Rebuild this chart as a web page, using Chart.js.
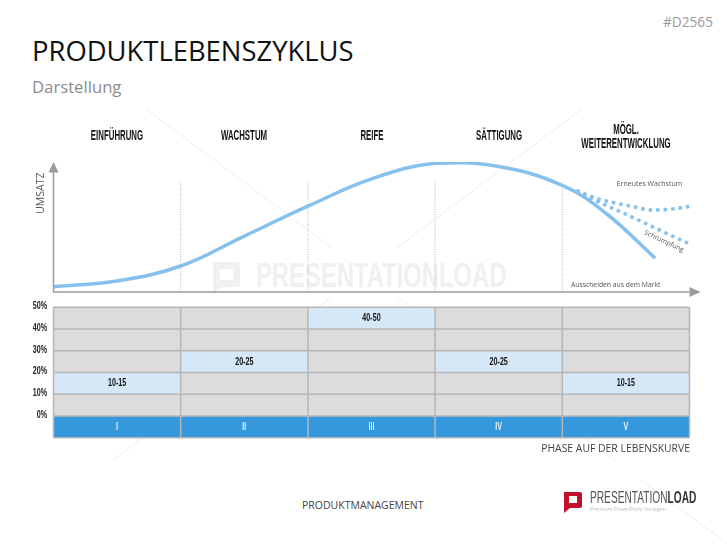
<!DOCTYPE html>
<html lang="de">
<head>
<meta charset="utf-8">
<title>Produktlebenszyklus</title>
<script src="https://cdn.jsdelivr.net/npm/chart.js@4/dist/chart.umd.min.js"></script>
<style>
html, body { margin: 0; padding: 0; background: #fff; }
#page { position: relative; width: 727px; height: 545px; overflow: hidden; font-family: "Open Sans", sans-serif; }
#page > * { position: absolute; }
canvas { position: absolute; }
.t { white-space: nowrap; }
.squeeze { transform-origin: left center; font-family: "Liberation Sans", sans-serif; }
.head { font-family: "Liberation Sans", sans-serif; font-weight: bold; font-size: 14px; line-height: 14px; color: #111; transform: translateX(-50%) scaleX(0.56); text-align: center; }
</style>
</head>
<body>
<div id="page">
  <svg id="bg" width="727" height="545" style="left:0;top:0">
    <g stroke="#eeeeee" stroke-width="1">
      <line x1="147" y1="110" x2="332" y2="248"/>
      <line x1="581" y1="110" x2="397" y2="248"/>
      <line x1="332" y1="297" x2="113" y2="460"/>
      <line x1="397" y1="297" x2="614" y2="460"/>
      <line x1="641" y1="480" x2="727" y2="543"/>
    </g>
    <path d="M213 262h24a3 3 0 0 1 3 3v19a3 3 0 0 1-3 3h-15l-9 8z M220 269v11h13v-11z" fill="#f1f1f1" fill-rule="evenodd"/>
    <path d="M564 492h16a2 2 0 0 1 2 2v12a2 2 0 0 1-2 2h-10l-6 5z M569 496v7h8v-7z" fill="#c3102b" fill-rule="evenodd"/>
  </svg>
  <div class="t squeeze" style="left:256px;top:256px;font-weight:bold;font-size:35px;line-height:38px;color:#f0f0f0;transform:scaleX(0.68)">PRESENTATIONLOAD</div>
  <div class="t" style="right:14px;top:12px;font-size:13.7px;color:#9a9a9a">#D2565</div>
  <div class="t" style="left:32px;top:33px;font-size:27.4px;line-height:36px;color:#111">PRODUKTLEBENSZYKLUS</div>
  <div class="t" style="left:32px;top:75px;font-size:16.7px;line-height:24px;color:#8c8c8c">Darstellung</div>
  <canvas id="lifeChart" width="727" height="200" style="left:0;top:100px"></canvas>
  <canvas id="shareChart" width="727" height="150" style="left:0;top:295px"></canvas>
  <div class="t" style="right:37px;top:440px;font-size:10.4px;line-height:16px;color:#444">PHASE AUF DER LEBENSKURVE</div>
  <div class="t" style="left:302px;top:497px;font-size:10.5px;line-height:16px;color:#444">PRODUKTMANAGEMENT</div>
  <div class="t squeeze" style="left:590px;top:489px;font-size:16px;line-height:18px;color:#555;transform:scaleX(0.635)">PRESENTATION<b style="color:#333">LOAD</b></div>
  <div class="t" style="left:590px;top:504px;font-size:5.3px;line-height:10px;color:#bbb">Premium PowerPoint Vorlagen</div>
</div>
<script>
// Phase names above the curve
const phaseNames = ['EINFÜHRUNG', 'WACHSTUM', 'REIFE', 'SÄTTIGUNG', ['MÖGL.', 'WEITERENTWICKLUNG']];
const phaseNumbers = ['I', 'II', 'III', 'IV', 'V'];

// Life cycle curve, x in phases, y in percent of the axis height
const curveX = [0, 0.5, 1, 1.5, 2, 2.5, 3, 3.5, 4, 4.35, 4.73];
const curveY = [4, 8.5, 20, 43, 66, 87, 99, 96.5, 82, 60, 26];
const growthX = [4.11, 4.27, 4.54, 4.72, 4.88, 5.01];
const growthY = [78, 72, 66, 63, 64, 66];
const shrinkX = [4.11, 4.27, 4.54, 4.8, 5];
const shrinkY = [78, 70, 58, 46, 37];

// Share of revenue table
const shareTicks = [50, 40, 30, 20, 10, 0];
const shareLow = [10, 20, 40, 20, 10];
const shareHigh = [20, 30, 50, 30, 20];
const shareLabels = ['10-15', '20-25', '40-50', '20-25', '10-15'];

const lineBlue = '#85c1ec';
const axisGrey = '#9b9b9b';

const toPoints = (xs, ys) => xs.map((x, i) => ({ x: x, y: ys[i] }));

// No condensed font is installed, so squeeze the text horizontally
function narrowText(ctx, text, px, py) {
    ctx.save();
    ctx.translate(px, py);
    ctx.scale(0.68, 1);
    ctx.fillText(text, 0, 0);
    ctx.restore();
}

// Head labels sit above each phase, placed from the chart's x scale
function addPhaseHeads(chart) {
    const x = chart.scales.x;
    phaseNames.forEach((name, i) => {
        const div = document.createElement('div');
        div.className = 'head t';
        div.style.left = x.getPixelForValue(i + 0.5) + 'px';
        const two = Array.isArray(name);
        div.style.top = (two ? 122 : 128) + 'px';
        div.innerHTML = two ? name.join('<br>') : name;
        document.getElementById('page').appendChild(div);
    });
}

// Axes with arrow heads, dotted phase lines and curve notes
const lifeDecor = {
    id: 'lifeDecor',
    beforeDatasetsDraw(chart) {
        const { ctx, scales: { x, y } } = chart;
        const x0 = x.getPixelForValue(0);
        const y0 = y.getPixelForValue(0);
        ctx.save();
        ctx.strokeStyle = '#b4b4b4';
        ctx.lineWidth = 1;
        ctx.setLineDash([1, 1.5]);
        for (let i = 1; i < 5; i++) {
            const px = x.getPixelForValue(i);
            ctx.beginPath();
            ctx.moveTo(px, y.getPixelForValue(85));
            ctx.lineTo(px, y0);
            ctx.stroke();
        }
        ctx.setLineDash([]);
        ctx.strokeStyle = axisGrey;
        ctx.lineWidth = 1.5;
        ctx.beginPath();
        ctx.moveTo(x0, y.getPixelForValue(96));
        ctx.lineTo(x0, y0);
        ctx.lineTo(x.getPixelForValue(5), y0);
        ctx.stroke();
        ctx.fillStyle = axisGrey;
        ctx.beginPath();
        ctx.moveTo(x0, y.getPixelForValue(100));
        ctx.lineTo(x0 - 5, y.getPixelForValue(92));
        ctx.lineTo(x0 + 5, y.getPixelForValue(92));
        ctx.fill();
        const xEnd = x.getPixelForValue(5);
        ctx.beginPath();
        ctx.moveTo(xEnd + 11, y0);
        ctx.lineTo(xEnd, y0 - 5);
        ctx.lineTo(xEnd, y0 + 5);
        ctx.fill();

        ctx.fillStyle = '#555';
        ctx.textBaseline = 'middle';
        ctx.textAlign = 'center';
        ctx.font = '10.500px "Open Sans", sans-serif';
        ctx.save();
        ctx.translate(41, y.getPixelForValue(76));
        ctx.rotate(-Math.PI / 2);
        ctx.fillText('UMSATZ', 0, 0);
        ctx.restore();
        ctx.font = '7px "Open Sans", sans-serif';
        ctx.fillText('Erneutes Wachstum', x.getPixelForValue(4.685), y.getPixelForValue(83));
        ctx.font = '6.800px "Open Sans", sans-serif';
        ctx.fillText('Ausscheiden aus dem Markt', x.getPixelForValue(4.42), y.getPixelForValue(5));
        ctx.save();
        ctx.translate(x.getPixelForValue(4.8), y.getPixelForValue(39));
        ctx.rotate(0.44);
        ctx.fillText('Schrumpfung', 0, 0);
        ctx.restore();
        ctx.restore();
    }
};

// Table grid drawn over the bars, labels drawn over the grid
const shareDecor = {
    id: 'shareDecor',
    afterDatasetsDraw(chart) {
        const { ctx, scales: { x, y } } = chart;
        const left = x.left, right = x.right;
        ctx.save();
        ctx.strokeStyle = '#b6b6b6';
        ctx.lineWidth = 1.5;
        shareTicks.concat(-10).forEach(v => {
            const py = y.getPixelForValue(v);
            ctx.beginPath();
            ctx.moveTo(left, py);
            ctx.lineTo(right, py);
            ctx.stroke();
        });
        for (let i = 0; i <= 5; i++) {
            const px = left + (right - left) * i / 5;
            ctx.beginPath();
            ctx.moveTo(px, y.getPixelForValue(50));
            ctx.lineTo(px, y.getPixelForValue(-10));
            ctx.stroke();
        }
        ctx.textBaseline = 'middle';
        ctx.font = 'bold 10.500px "Liberation Sans", sans-serif';
        ctx.textAlign = 'right';
        ctx.fillStyle = '#222';
        shareTicks.forEach(v => narrowText(ctx, v + '%', 47, y.getPixelForValue(v) - 1));
        ctx.textAlign = 'center';
        phaseNumbers.forEach((name, i) => {
            const px = x.getPixelForValue(i);
            ctx.fillStyle = '#111';
            narrowText(ctx, shareLabels[i], px, y.getPixelForValue((shareLow[i] + shareHigh[i]) / 2));
            ctx.fillStyle = '#e8f3fb';
            narrowText(ctx, name, px, y.getPixelForValue(-5));
        });
        ctx.restore();
    }
};

const lifeChart = new Chart(document.getElementById('lifeChart'), {
    type: 'scatter',
    data: {
        datasets: [
            { data: toPoints(curveX, curveY), showLine: true, borderColor: lineBlue, borderWidth: 3.5, pointRadius: 0, tension: 0.4 },
            { data: toPoints(growthX, growthY), showLine: true, borderColor: lineBlue, borderWidth: 3.5, borderDash: [3.500, 4], pointRadius: 0, cubicInterpolationMode: 'monotone' },
            { data: toPoints(shrinkX, shrinkY), showLine: true, borderColor: lineBlue, borderWidth: 3.5, borderDash: [3.500, 4], pointRadius: 0, cubicInterpolationMode: 'monotone' }
        ]
    },
    options: {
        responsive: false,
        animation: false,
        layout: { padding: { left: 53.5, right: 37.5, top: 62, bottom: 8 } },
        scales: {
            x: { type: 'linear', display: false, min: 0, max: 5 },
            y: { display: false, min: 0, max: 100 }
        },
        plugins: { legend: { display: false }, tooltip: { enabled: false } }
    },
    plugins: [lifeDecor]
});
addPhaseHeads(lifeChart);

const shareChart = new Chart(document.getElementById('shareChart'), {
    type: 'bar',
    data: {
        labels: phaseNumbers,
        datasets: [
            { data: shareLow.map((low, i) => [low, shareHigh[i]]), backgroundColor: '#d6e8f7', grouped: false, order: 1 },
            { data: phaseNumbers.map(() => [0, 50]), backgroundColor: '#dcdcdc', grouped: false, order: 2 },
            { data: phaseNumbers.map(() => [-10, 0]), backgroundColor: '#3698dc', grouped: false, order: 3 }
        ]
    },
    options: {
        responsive: false,
        animation: false,
        barPercentage: 1,
        categoryPercentage: 1,
        layout: { padding: { left: 53.5, right: 37.5, top: 12.3, bottom: 7.3 } },
        scales: {
            x: { display: false },
            y: { display: false, min: -10, max: 50 }
        },
        plugins: { legend: { display: false }, tooltip: { enabled: false } }
    },
    plugins: [shareDecor]
});
</script>
</body>
</html>
